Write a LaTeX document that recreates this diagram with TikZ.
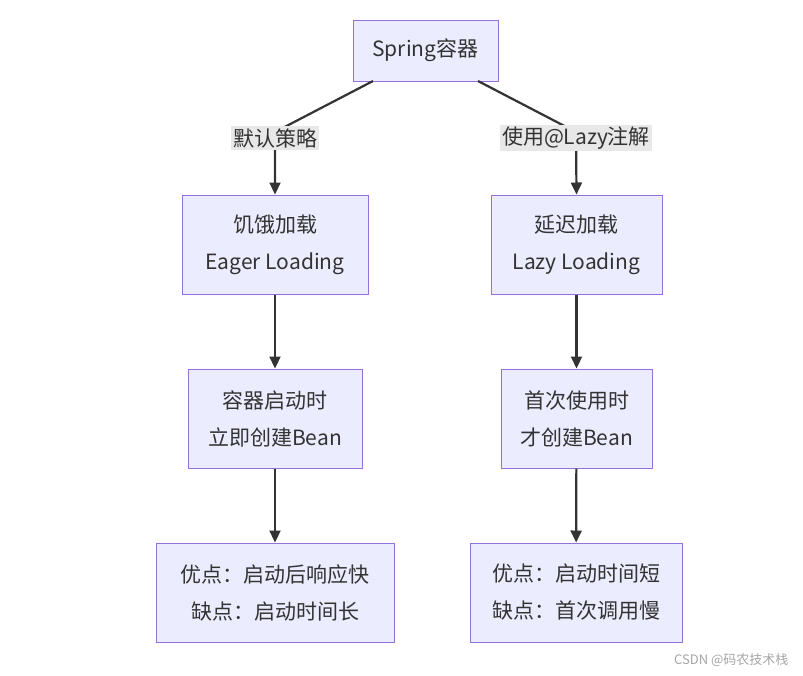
\documentclass[tikz,border=0pt]{standalone}
\usepackage{fontspec}
\setmainfont{Noto Sans CJK SC}
\usetikzlibrary{arrows.meta}
\definecolor{nfill}{HTML}{ECECFF}
\definecolor{nborder}{HTML}{9370DB}
\definecolor{edge}{HTML}{333333}
\definecolor{lbl}{HTML}{E8E8E8}
\begin{document}
\begin{tikzpicture}[x=1pt,y=-1pt,
  box/.style={draw=nborder,fill=nfill,line width=1pt,align=center,inner sep=0pt,font=\fontsize{21}{37}\selectfont,text=edge},
  lab/.style={fill=lbl,inner sep=2pt,font=\fontsize{21}{25}\selectfont,text=edge},
  arr/.style={draw=edge,line width=2.2pt,-{Triangle[length=12pt,width=11pt]}}]
\useasboundingbox (0,0) rectangle (803,675);
\fill[white] (0,0) rectangle (803,675);
\node[box,minimum width=145pt,minimum height=61pt] (spring) at (425.5,50.5) {Spring容器};
\node[box,minimum width=186pt,minimum height=99pt] (eager) at (275,244.5) {饥饿加载\\Eager Loading};
\node[box,minimum width=171pt,minimum height=99pt] (lazy) at (576.5,244.5) {延迟加载\\Lazy Loading};
\node[box,minimum width=174pt,minimum height=99pt] (ec) at (275,418.5) {容器启动时\\立即创建Bean};
\node[box,minimum width=151pt,minimum height=99pt] (lc) at (576.5,418.5) {首次使用时\\才创建Bean};
\node[box,minimum width=238pt,minimum height=99pt] (ep) at (275,592.5) {优点：启动后响应快\\缺点：启动时间长};
\node[box,minimum width=212pt,minimum height=99pt] (lp) at (576,592.5) {优点：启动时间短\\缺点：首次调用慢};
\coordinate (sl) at (373,81);
\coordinate (sr) at (478,81);
\coordinate (ml) at (275,132);
\coordinate (mr) at (576,132);
\draw[arr] (sl) -- (ml) -- (eager.north);
\draw[arr] (sr) -- (mr) -- (lazy.north);
\node[lab] (l1) at (275,138) {默认策略};
\node[lab] (l2) at (576,138) {使用@Lazy注解};
\draw[arr] (eager) -- (ec);
\draw[arr] (ec) -- (ep);
\draw[arr] (lazy) -- (lc);
\draw[arr] (lc) -- (lp);
\node[text=gray!70,font=\fontsize{13}{15}\selectfont,anchor=east] (wm) at (792,660) {CSDN @码农技术栈};
\end{tikzpicture}
\end{document}
